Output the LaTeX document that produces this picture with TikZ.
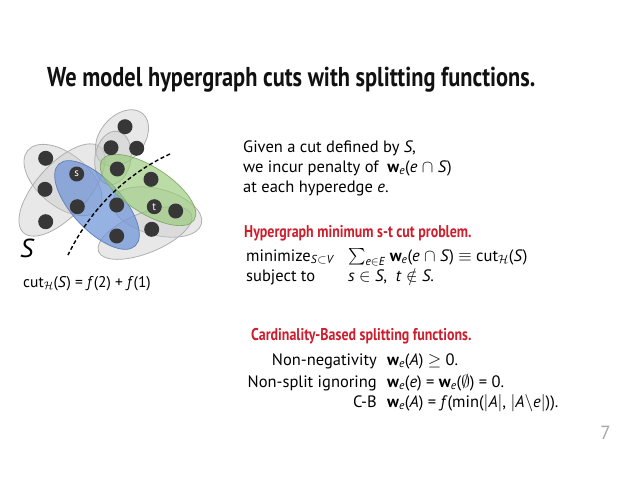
\documentclass[tikz,border=0pt]{standalone}
\usepackage{fontspec}
\usepackage{amsmath,amssymb}
\setmainfont{PT Sans}
\newfontfamily\narrowbf{PT Sans}[FakeStretch=0.82]
\usetikzlibrary{shapes.geometric}

\definecolor{dotgray}{RGB}{55,55,55}
\definecolor{hgray}{RGB}{200,200,200}
\definecolor{hline}{RGB}{175,175,175}
\definecolor{hblue}{RGB}{110,148,215}
\definecolor{hgreen}{RGB}{150,202,120}
\definecolor{slidered}{RGB}{205,30,45}
\definecolor{titleblack}{RGB}{17,17,17}

\begin{document}
\begin{tikzpicture}[
    x=1pt, y=-1pt,
    vtx/.style={circle, fill=dotgray, minimum size=15pt, inner sep=0pt,
                text=white, font=\fontsize{11}{11}\selectfont},
    hedge/.style={ellipse, draw=hline, line width=0.8pt, fill=hgray,
                  fill opacity=0.42, inner sep=0pt},
    txt/.style={anchor=base west, inner sep=0pt, font=\fontsize{16.5}{20}\selectfont},
    rtxt/.style={txt, anchor=base east},
    redhead/.style={anchor=base west, inner sep=0pt, text=slidered,
                    font=\narrowbf\bfseries\fontsize{17}{20}\selectfont}
  ]
  \useasboundingbox (0,0) rectangle (638,493);

  %% ── Title ──
  \node[anchor=base west, inner sep=0pt, text=titleblack,
        font=\narrowbf\bfseries\fontsize{27.3}{30}\selectfont]
    (title) at (47,86) {We model hypergraph cuts with splitting functions.};

  %% ── Hyperedges ──
  \node[hedge, minimum width=92pt, minimum height=52pt, rotate=-40] (eA) at (63,180) {};
  \node[hedge, minimum width=115pt, minimum height=52pt, rotate=48] (eB) at (62,190) {};
  \node[hedge, minimum width=64pt, minimum height=44pt, rotate=50] (eC) at (122,138) {};
  \node[hedge, minimum width=54pt, minimum height=36pt, rotate=80] (eD) at (113,158) {};
  \node[hedge, minimum width=92pt, minimum height=46pt, rotate=-15] (eE) at (157,212) {};
  \node[hedge, minimum width=100pt, minimum height=40pt, rotate=22] (eF) at (145,233) {};
  \node[ellipse, draw=hblue!85!black, fill=hblue, fill opacity=0.72, line width=0.7pt,
        inner sep=0pt, minimum width=112pt, minimum height=50pt, rotate=-47] (eBlue) at (97,205) {};
  \node[ellipse, draw=hgreen!85!black, fill=hgreen, fill opacity=0.65, line width=0.7pt,
        inner sep=0pt, minimum width=110pt, minimum height=46pt, rotate=-33] (eGreen) at (148,190) {};

  %% ── Cut ──
  \coordinate (cutA) at (170,154);
  \coordinate (cutB) at (68,255);
  \draw[black, line width=1.4pt, dash pattern=on 4pt off 2.5pt]
    (cutA) .. controls (135,170) and (95,200) .. (cutB);

  %% ── Vertices ──
  \node[vtx] (v1)  at (45.7,158.3) {};
  \node[vtx] (v2)  at (45,189.3) {};
  \node[vtx] (v3)  at (45.7,221.7) {};
  \node[vtx] (vs)  at (76.7,174) {s};
  \node[vtx] (v4)  at (77.3,206.7) {};
  \node[vtx] (v5)  at (125,126.7) {};
  \node[vtx] (v6)  at (111,147.7) {};
  \node[vtx] (v7)  at (136.7,148.3) {};
  \node[vtx] (v8)  at (117.3,169) {};
  \node[vtx] (v9)  at (151,179.3) {};
  \node[vtx] (v10) at (116.7,205) {};
  \node[vtx] (vt)  at (154.3,206.7) {t};
  \node[vtx] (v11) at (175.7,211) {};
  \node[vtx] (v12) at (151.7,229.3) {};
  \node[vtx] (v13) at (116.7,236) {};

  \node[anchor=base west, inner sep=0pt, font=\itshape\fontsize{26}{26}\selectfont]
    (setS) at (20,257) {S};
  \node[txt, font=\fontsize{15.5}{18}\selectfont] (cutval) at (23,287)
    {cut\textsubscript{$\mathcal{H}$}(\textit{S}) = \textit{f}(2) + \textit{f}(1)};

  %% ── Penalty text ──
  \node[txt] (given1) at (243,152) {Given a cut defined by \textit{S},};
  \node[txt] (given2) at (243,172)
    {we incur penalty of \ $\mathbf{w}$\textsubscript{\textit{e}}(\textit{e} $\cap$ \textit{S})};
  \node[txt] (given3) at (243,192) {at each hyperedge \textit{e}.};

  %% ── Min s-t cut ──
  \node[redhead] (mincut) at (244,237) {Hypergraph minimum s-t cut problem.};
  \node[txt] (minlbl) at (246,261) {minimize\textsubscript{\textit{S}$\subset$\textit{V}}};
  \node[txt] (minobj) at (348,261)
    {$\sum_{\text{\itshape e}\in\text{\itshape E}}$
     $\mathbf{w}$\textsubscript{\textit{e}}(\textit{e} $\cap$ \textit{S}) $\equiv$
     cut\textsubscript{$\mathcal{H}$}(\textit{S})};
  \node[txt] (stlbl) at (246,281) {subject to};
  \node[txt] (stobj) at (348,281) {\textit{s} $\in$ \textit{S}, \ \textit{t} $\notin$ \textit{S}.};

  %% ── Cardinality-based ──
  \node[redhead] (cbhead) at (251,340) {Cardinality-Based splitting functions.};
  \node[rtxt] (nn) at (377,365) {Non-negativity};
  \node[txt] (nnf) at (387,365)
    {$\mathbf{w}$\textsubscript{\textit{e}}(\textit{A}) $\geq$ 0.};
  \node[rtxt] (ns) at (377,387) {Non-split ignoring};
  \node[txt] (nsf) at (387,387)
    {$\mathbf{w}$\textsubscript{\textit{e}}(\textit{e}) = $\mathbf{w}$\textsubscript{\textit{e}}($\emptyset$) = 0.};
  \node[rtxt] (cb) at (377,407) {C-B};
  \node[txt] (cbf) at (387,407)
    {$\mathbf{w}$\textsubscript{\textit{e}}(\textit{A}) = \textit{f}(min($|$\textit{A}$|$, $|$\textit{A}$\setminus$\textit{e}$|$)).};

  \node[anchor=base east, inner sep=0pt, text=gray!70, font=\fontsize{19}{19}\selectfont]
    (pnum) at (611,439) {7};

\end{tikzpicture}
\end{document}
